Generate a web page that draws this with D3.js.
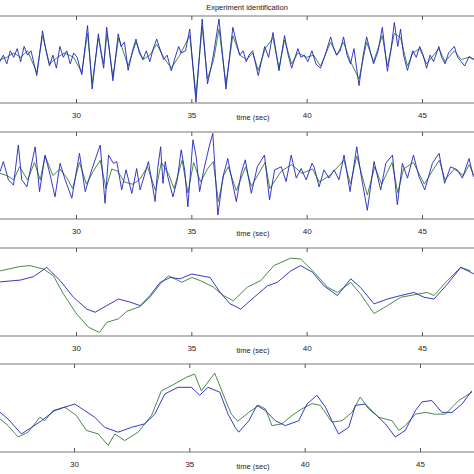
<!DOCTYPE html>
<html><head><meta charset="utf-8">
<script src="https://cdn.jsdelivr.net/npm/d3@7"></script>
<style>body{margin:0;background:#fff}svg{display:block}</style>
</head><body><svg id="c" width="474" height="474"></svg>
<script>
const tickValues=[30,35,40,45];
const title="Experiment identification";
const xLabel="time (sec)";
// panel 1
const p1BlueT=[26.7,26.85,27.0,27.15,27.3,27.45,27.6,27.75,27.9,28.05,28.3,28.55,28.7,28.85,29.0,29.15,29.3,29.45,29.6,29.75,29.9,30.05,30.25,30.5,30.7,30.97,31.1,31.2,31.33,31.6,31.83,31.95,32.1,32.26,32.45,32.6,32.75,32.9,33.05,33.2,33.35,33.5,33.6,33.8,33.95,34.13,34.3,34.45,34.56,34.75,34.93,35.2,35.47,35.7,35.85,35.97,36.2,36.5,36.8,36.95,37.1,37.25,37.38,37.5,37.66,37.9,38.18,38.35,38.54,38.8,39.04,39.2,39.35,39.5,39.62,39.75,39.9,40.05,40.23,40.4,40.6,40.8,41.04,41.15,41.3,41.45,41.6,41.75,41.9,42.05,42.27,42.45,42.6,42.75,42.9,43.1,43.28,43.5,43.65,43.8,43.95,44.07,44.2,44.37,44.6,44.75,44.9,45.05,45.2,45.35,45.5,45.73,45.85,46.0,46.15,46.4,46.55,46.7,46.85,47.04,47.25];
const p1BlueV=[-0.05,0.1,-0.1,0.2,0.05,0.25,-0.05,0.3,0.1,0.2,-0.37,0.66,0.2,-0.15,0.1,-0.2,0.3,0.05,0.2,-0.1,0.15,0.05,-0.35,0.78,-0.68,0.59,0.1,-0.2,0.74,-0.49,0.59,0.3,0.4,-0.25,0.2,0.47,0.15,0.0,0.2,-0.05,0.25,0.47,0.3,0.0,0.1,-0.26,0.05,0.3,0.15,0.2,0.7,-0.98,0.93,-0.56,-0.2,0.15,0.93,-0.68,0.74,0.4,0.1,0.2,-0.05,0.1,0.2,-0.37,0.3,0.05,0.62,-0.26,0.55,0.1,-0.2,0.05,0.25,0.05,0.1,-0.05,0.2,-0.1,-0.2,0.1,0.52,0.3,0.1,0.2,0.52,0.1,-0.1,0.25,-0.6,0.1,0.52,0.2,-0.1,0.2,0.74,-0.27,0.2,0.85,0.3,0.7,0.1,-0.25,0.2,0.05,0.3,0.1,-0.2,0.1,-0.05,0.3,0.05,-0.1,0.15,0.3,0.05,-0.05,-0.15,0.07,0.0];
const p1GreenT=[26.7,27.0,27.3,27.6,27.9,28.3,28.55,28.85,29.2,29.5,29.9,30.25,30.5,30.7,30.97,31.2,31.35,31.6,31.85,32.26,32.6,32.9,33.2,33.5,33.8,34.13,34.5,34.93,35.2,35.47,35.7,35.97,36.2,36.5,36.8,37.1,37.4,37.66,37.9,38.2,38.54,38.8,39.04,39.35,39.62,40.0,40.3,40.6,41.04,41.3,41.6,41.9,42.27,42.6,42.9,43.28,43.5,43.8,44.07,44.37,44.6,44.9,45.2,45.73,46.0,46.4,46.7,47.04,47.25];
const p1GreenV=[0.0,0.05,0.15,0.05,0.2,-0.3,0.55,-0.1,0.05,0.15,0.05,-0.3,0.6,-0.55,0.5,-0.1,0.6,-0.4,0.5,-0.15,0.4,0.0,0.1,0.35,0.05,-0.2,0.1,0.55,-0.8,0.75,-0.45,0.0,0.7,-0.55,0.55,0.1,0.0,0.15,-0.25,0.25,0.5,-0.2,0.45,-0.1,0.15,0.05,0.1,-0.15,0.4,0.1,0.4,-0.05,-0.45,0.4,-0.05,0.55,-0.15,0.6,0.5,-0.15,0.15,0.25,-0.1,0.25,-0.05,0.2,0.0,0.05,0.0];
// panel 2
const p2BlueT=[26.71,26.85,27.07,27.29,27.5,27.65,27.87,28.23,28.42,28.66,28.88,29.09,29.31,29.53,29.82,30.15,30.4,30.68,31.05,31.26,31.41,31.62,31.77,31.98,32.17,32.42,32.63,32.78,33.14,33.43,33.55,33.67,33.77,33.87,33.98,34.2,34.39,34.56,34.71,34.85,35.07,35.21,35.36,35.57,35.79,35.93,36.15,36.37,36.58,36.76,36.95,37.16,37.34,37.6,37.86,38.17,38.39,38.61,38.9,39.11,39.33,39.55,39.76,39.98,40.23,40.32,40.54,40.75,40.97,41.19,41.4,41.62,41.88,42.17,42.37,42.63,42.92,43.21,43.43,43.72,43.93,44.15,44.37,44.63,44.87,45.12,45.45,45.74,45.98,46.24,46.53,46.75,47.04,47.23];
const p2BlueV=[0.09,0.32,-0.1,-0.22,0.7,-0.1,-0.26,0.66,-0.37,0.47,0.01,-0.49,0.28,-0.1,-0.52,0.51,-0.37,0.13,0.7,-0.64,0.47,0.28,0.32,-0.33,0.13,-0.41,0.16,-0.33,0.32,-0.6,0.2,0.66,-0.18,0.32,-0.03,-0.49,-0.1,0.59,0.13,-0.72,0.82,0.43,-0.37,0.2,0.7,0.97,-0.91,-0.03,0.39,-0.1,-0.6,0.05,0.36,-0.41,0.2,0.47,-0.56,0.13,0.2,-0.14,0.47,-0.06,0.16,-0.1,0.28,0.2,-0.26,0.13,-0.06,0.13,-0.1,0.47,-0.37,0.66,-0.03,-0.8,0.32,-0.33,0.28,0.47,-0.67,0.28,-0.06,0.47,-0.03,-0.33,0.28,0.51,-0.18,0.2,0.13,-0.06,0.39,-0.03];
const p2GreenT=[26.7,27.0,27.3,27.55,27.9,28.2,28.45,28.66,29.0,29.3,29.6,29.85,30.15,30.45,30.75,31.05,31.3,31.55,31.8,32.1,32.45,32.75,33.1,33.45,33.7,34.0,34.25,34.6,34.85,35.1,35.4,35.7,35.95,36.17,36.4,36.6,36.95,37.35,37.6,38.2,38.4,38.9,39.35,39.8,40.25,40.55,41.0,41.62,41.9,42.17,42.63,42.95,43.25,43.7,43.95,44.2,44.63,45.1,45.5,45.75,46.0,46.4,46.8,47.05,47.25];
const p2GreenV=[0.05,0.0,-0.1,0.2,-0.1,0.3,-0.1,0.45,0.0,0.15,-0.05,-0.3,0.3,-0.2,0.1,0.35,-0.3,0.15,0.1,-0.15,-0.2,-0.1,0.2,-0.35,0.3,0.05,-0.3,0.35,-0.4,0.3,-0.15,0.15,0.32,-0.6,0.0,0.2,-0.35,0.2,-0.25,0.3,-0.3,0.1,0.25,0.05,0.15,-0.15,0.0,0.35,-0.2,0.45,-0.45,0.2,-0.2,0.3,-0.4,0.15,0.3,-0.2,0.15,0.35,-0.1,0.15,0.0,0.25,0.0];
// panel 3
const p3BlueT=[26.71,27.58,28.16,28.73,29.31,29.89,30.47,30.83,31.33,31.84,32.35,32.78,33.21,33.65,34.08,34.51,35.02,35.81,36.25,36.68,36.85,37.14,37.72,38.3,38.73,39.31,39.74,40.25,40.75,41.33,41.91,42.34,42.92,43.5,44.08,44.65,45.09,45.52,46.1,46.68,47.25];
const p3BlueV=[0.23,0.27,0.35,0.56,0.26,-0.12,-0.39,-0.46,-0.31,-0.16,-0.23,-0.31,-0.08,0.22,0.33,0.3,0.41,0.33,-0.01,-0.27,-0.31,-0.39,-0.12,0.14,0.22,0.48,0.6,0.45,0.14,-0.08,0.3,0.1,-0.27,-0.16,-0.08,-0.01,-0.12,-0.16,0.18,0.56,0.41];
const p3GreenT=[26.71,27.58,28.01,28.59,29.02,29.46,30.03,30.54,31.02,31.33,31.84,32.2,32.78,33.21,33.65,34.01,34.59,35.02,35.38,35.96,36.39,36.82,37.43,38.01,38.58,39.31,39.74,40.32,40.9,41.33,41.91,42.34,42.92,43.5,44.08,44.8,45.23,45.52,46.1,46.68,47.11];
const p3GreenV=[0.48,0.58,0.6,0.52,0.37,-0.05,-0.5,-0.8,-0.92,-0.69,-0.61,-0.44,-0.33,-0.12,0.18,0.37,0.22,0.33,0.26,0.11,-0.08,-0.2,0.11,0.26,0.6,0.77,0.75,0.45,0.11,-0.01,0.22,-0.05,-0.49,-0.31,-0.12,-0.05,-0.01,-0.08,0.26,0.56,0.48];
// panel 4
const p4BlueT=[26.71,27.14,27.72,28.16,28.59,29.16,29.6,30.03,30.47,30.9,31.33,31.91,32.49,33.07,33.5,33.94,34.51,35.09,35.45,35.81,36.32,36.68,37.0,37.14,37.58,37.93,38.3,38.73,39.16,39.74,40.1,40.53,40.9,41.18,41.47,41.91,42.2,42.63,43.06,43.5,43.93,44.36,44.8,45.09,45.52,45.95,46.39,46.82,47.25];
const p4BlueV=[-0.06,-0.25,-0.59,-0.44,-0.29,-0.06,0.02,0.09,-0.06,-0.21,-0.44,-0.55,-0.44,-0.36,-0.14,0.32,0.47,0.47,0.29,0.47,0.36,-0.14,-0.45,-0.55,-0.29,0.06,-0.06,-0.29,-0.4,-0.29,0.09,0.29,0.02,-0.29,-0.59,-0.44,0.06,0.09,-0.14,-0.36,-0.66,-0.51,-0.06,0.14,0.17,-0.1,-0.1,0.09,0.39];
const p4GreenT=[26.71,27.14,27.58,28.01,28.52,28.73,29.09,29.6,30.1,30.54,31.05,31.48,31.77,32.2,32.78,33.36,33.79,34.37,34.88,35.23,35.52,36.1,36.46,36.82,37.1,37.58,38.01,38.3,38.58,39.02,39.45,39.88,40.32,40.68,41.18,41.62,42.05,42.41,42.77,43.21,43.79,44.08,44.36,44.8,45.23,45.66,46.1,46.68,47.25];
const p4GreenV=[-0.21,-0.4,-0.66,-0.55,-0.21,-0.29,-0.06,0.02,-0.17,-0.51,-0.59,-0.85,-0.59,-0.74,-0.55,-0.17,0.39,0.55,0.7,0.77,0.39,0.79,0.32,-0.14,-0.3,-0.1,0.06,-0.02,-0.4,-0.36,-0.17,-0.02,0.1,0.06,-0.32,-0.29,-0.1,0.25,-0.02,-0.21,-0.29,-0.51,-0.4,-0.14,-0.1,-0.14,-0.14,0.17,0.36];

const panels=[
 {top:16,bot:103,b:[p1BlueT,p1BlueV],g:[p1GreenT,p1GreenV],tick:112,lab:120,shift:0},
 {top:132,bot:219,b:[p2BlueT,p2BlueV],g:[p2GreenT,p2GreenV],tick:228,lab:236,shift:0},
 {top:248,bot:336,b:[p3BlueT,p3BlueV],g:[p3GreenT,p3GreenV],tick:345,lab:353,shift:0},
 {top:364,bot:452,b:[p4BlueT,p4BlueV],g:[p4GreenT,p4GreenV],tick:461,lab:469,shift:-2}
];
const svg=d3.select("#c");
const F="Liberation Sans, Arial, sans-serif";
svg.append("text").attr("x",247).attr("y",10).attr("text-anchor","middle")
  .attr("font-family",F).attr("font-size",7.5).attr("fill","#222").text(title);
panels.forEach(p=>{
  const x=d3.scaleLinear().domain([30,45]).range([76+p.shift,422+p.shift]);
  const y=d3.scaleLinear().domain([-1,1]).range([p.bot,p.top]);
  const g=svg.append("g");
  const line=d3.line().x(d=>x(d[0])).y(d=>y(d[1]));
  const mk=a=>a[0].map((t,i)=>[t,a[1][i]]);
  g.append("path").datum(mk(p.g)).attr("d",line).attr("fill","none").attr("stroke","#4a8a4a").attr("stroke-width",1);
  g.append("path").datum(mk(p.b)).attr("d",line).attr("fill","none").attr("stroke","#2222c0").attr("stroke-width",0.9);
  // frame
  [p.top,p.bot].forEach(yy=>g.append("line").attr("x1",0).attr("x2",474).attr("y1",yy).attr("y2",yy).attr("stroke","#777").attr("stroke-width",1.2));
  const axB=d3.axisBottom(x).tickValues(tickValues).tickSize(-4).tickPadding(9).tickFormat(d3.format("d"));
  const gb=g.append("g").attr("transform",`translate(0,${p.bot})`).call(axB);
  gb.select(".domain").remove();
  gb.selectAll("line").attr("stroke","#555");
  gb.selectAll("text").attr("font-family",F).attr("font-size",8).attr("fill","#222");
  const axT=d3.axisTop(x).tickValues(tickValues).tickSize(-4).tickFormat("");
  const gt=g.append("g").attr("transform",`translate(0,${p.top})`).call(axT);
  gt.select(".domain").remove();
  gt.selectAll("line").attr("stroke","#555");
  g.append("text").attr("x",253).attr("y",p.lab).attr("text-anchor","middle")
   .attr("font-family",F).attr("font-size",7.5).attr("fill","#222").text(xLabel);
});
</script></body></html>
